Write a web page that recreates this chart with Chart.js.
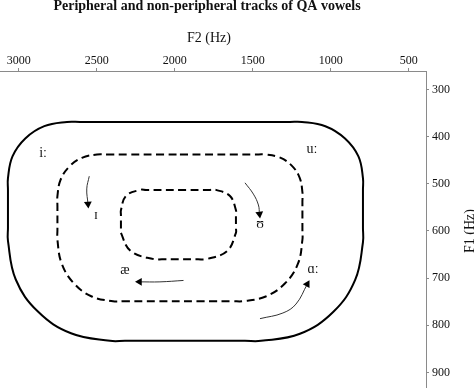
<!DOCTYPE html>
<html><head><meta charset="utf-8">
<script src="https://cdn.jsdelivr.net/npm/chart.js@4.4.1/dist/chart.umd.min.js"></script>
<style>html,body{margin:0;padding:0;background:#fff;} #wrap{width:474px;height:388px;}</style>
</head><body>
<div id="wrap"><canvas id="c" width="474" height="388"></canvas></div>
<script>
const chartTitle = 'Peripheral and non-peripheral tracks of QA vowels';
const xTitle = 'F2 (Hz)';
const yTitle = 'F1 (Hz)';
const f2Ticks = [3000, 2500, 2000, 1500, 1000, 500];
const f1Ticks = [300, 400, 500, 600, 700, 800, 900];

// peripheral (outer, solid) track
const outerF2 = [1935, 1262, 1185, 1035, 909, 823, 794, 794, 794, 794, 844, 985, 1198, 1447, 1550, 2319, 2415, 2665, 2877, 3019, 3069, 3069, 3069, 3069, 3040, 2958, 2836, 2691, 2607, 1935];
const outerF1 = [369, 369, 369, 378, 404, 442, 488, 513, 594, 624, 704, 772, 818, 833, 833, 833, 833, 817, 771, 703, 621, 594, 513, 488, 442, 404, 378, 369, 369, 369];
// non-peripheral (middle, dashed) track
const middleF2 = [1967, 1486, 1422, 1330, 1252, 1200, 1182, 1182, 1182, 1182, 1210, 1293, 1417, 1563, 1627, 2332, 2396, 2532, 2647, 2725, 2752, 2752, 2752, 2752, 2732, 2677, 2595, 2498, 2434, 1967];
const middleF1 = [438, 438, 438, 444, 461, 487, 518, 539, 598, 619, 669, 711, 739, 749, 749, 749, 749, 739, 711, 669, 619, 598, 547, 526, 492, 464, 445, 438, 438, 438];
// inner dashed track
const innerF2 = [1979, 1774, 1736, 1646, 1608, 1608, 1608, 1608, 1665, 1800, 1851, 2082, 2133, 2281, 2345, 2345, 2345, 2345, 2313, 2223, 2184, 1979];
const innerF1 = [513, 513, 513, 526, 556, 566, 594, 604, 643, 660, 660, 660, 660, 643, 604, 594, 566, 556, 526, 513, 513, 513];

// movement arrows
const arrowIF2 = [2548, 2564, 2556];
const arrowIF1 = [484, 511, 543];
const arrowUF2 = [1550, 1496, 1464, 1457];
const arrowUF1 = [498, 522, 545, 564];
const arrowAeF2 = [1944, 2095, 2226];
const arrowAeF1 = [705, 708, 708];
const arrowAF2 = [1454, 1307, 1223, 1151];
const arrowAF1 = [786, 774, 755, 713];

// vowel labels
const vowelLabels = ['iː', 'uː', 'ɪ', 'ʊ', 'æ', 'ɑː'];
const vowelF2 = [2844, 1121, 2505, 1454, 2319, 1114];
const vowelF1 = [435, 428, 568, 587, 683, 681];

const pts = (xs, ys) => xs.map((v, i) => ({x: v, y: ys[i]}));

function headAngle(ctx) {
  const d = ctx.dataset.data; const n = d.length;
  const sx = ctx.chart.scales.x, sy = ctx.chart.scales.y;
  const a = d[n - 2], b = d[n - 1];
  const dx = sx.getPixelForValue(b.x) - sx.getPixelForValue(a.x);
  const dy = sy.getPixelForValue(b.y) - sy.getPixelForValue(a.y);
  return Math.atan2(dx, -dy) * 180 / Math.PI;
}
function headRadius(ctx) {
  return ctx.dataIndex === ctx.dataset.data.length - 1 ? 4.5 : 0;
}

function trackDs(xs, ys, dash) {
  return { data: pts(xs, ys), showLine: true, borderColor: '#000', borderWidth: 2,
    borderDash: dash, tension: 0.4, pointRadius: 0, fill: false };
}
function arrowDs(xs, ys) {
  return { data: pts(xs, ys), showLine: true, borderColor: '#333', borderWidth: 1,
    tension: 0.4, fill: false, pointStyle: 'triangle', pointRadius: headRadius,
    rotation: headAngle, pointBackgroundColor: '#000', pointBorderColor: '#000', pointBorderWidth: 0 };
}

const serif = '"Liberation Serif", "DejaVu Serif", serif';
const textPlugin = {
  id: 'texts',
  afterDraw(chart) {
    const ctx = chart.ctx; const sx = chart.scales.x, sy = chart.scales.y;
    ctx.save();
    ctx.fillStyle = '#111';
    ctx.textAlign = 'center';
    ctx.textBaseline = 'alphabetic';
    ctx.font = 'bold 14px ' + serif;
    ctx.fillText(chartTitle, 207, 10);
    ctx.font = '14px ' + serif;
    ctx.fillText(xTitle, 209, 41.5);
    ctx.save();
    ctx.translate(473.5, 231);
    ctx.rotate(-Math.PI / 2);
    ctx.fillText(yTitle, 0, 0);
    ctx.restore();
    ctx.font = '14px ' + serif;
    ctx.textBaseline = 'middle';
    vowelLabels.forEach((t, i) => {
      ctx.fillText(t, sx.getPixelForValue(vowelF2[i]), sy.getPixelForValue(vowelF1[i]));
    });
    ctx.restore();
  }
};

function noPad(s) { s.paddingLeft = 0; s.paddingRight = 0; s.paddingTop = 0; s.paddingBottom = 0; }

new Chart(document.getElementById('c'), {
  type: 'scatter',
  data: { datasets: [
    trackDs(outerF2, outerF1, []),
    trackDs(middleF2, middleF1, [8, 4.5]),
    trackDs(innerF2, innerF1, [8, 4.5]),
    arrowDs(arrowIF2, arrowIF1),
    arrowDs(arrowUF2, arrowUF1),
    arrowDs(arrowAeF2, arrowAeF1),
    arrowDs(arrowAF2, arrowAF1)
  ]},
  options: {
    responsive: false, animation: false, events: [],
    layout: { padding: 0, autoPadding: false },
    plugins: { legend: { display: false }, title: { display: false }, tooltip: { enabled: false } },
    scales: {
      x: {
        type: 'linear', position: 'top', reverse: true, min: 390, max: 3120,
        afterBuildTicks: s => { s.ticks = f2Ticks.map(v => ({value: v})); },
        afterFit: s => { s.height = 71; noPad(s); },
        grid: { drawOnChartArea: false, drawTicks: true, tickLength: 3, color: '#8a8a8a', lineWidth: 1 },
        border: { display: true, color: '#8a8a8a', width: 1 },
        ticks: { font: { family: serif, size: 12 }, color: '#111', padding: 0, maxRotation: 0, autoSkip: false,
          callback: v => String(v) }
      },
      y: {
        type: 'linear', position: 'right', reverse: true, min: 261, max: 933,
        afterBuildTicks: s => { s.ticks = f1Ticks.map(v => ({value: v})); },
        afterFit: s => { s.width = 48; noPad(s); },
        grid: { drawOnChartArea: false, drawTicks: true, tickLength: 3, color: '#8a8a8a', lineWidth: 1 },
        border: { display: true, color: '#8a8a8a', width: 1 },
        ticks: { font: { family: serif, size: 12 }, color: '#111', padding: 3, autoSkip: false,
          callback: v => String(v) }
      }
    }
  },
  plugins: [textPlugin]
});
</script>
</body></html>
